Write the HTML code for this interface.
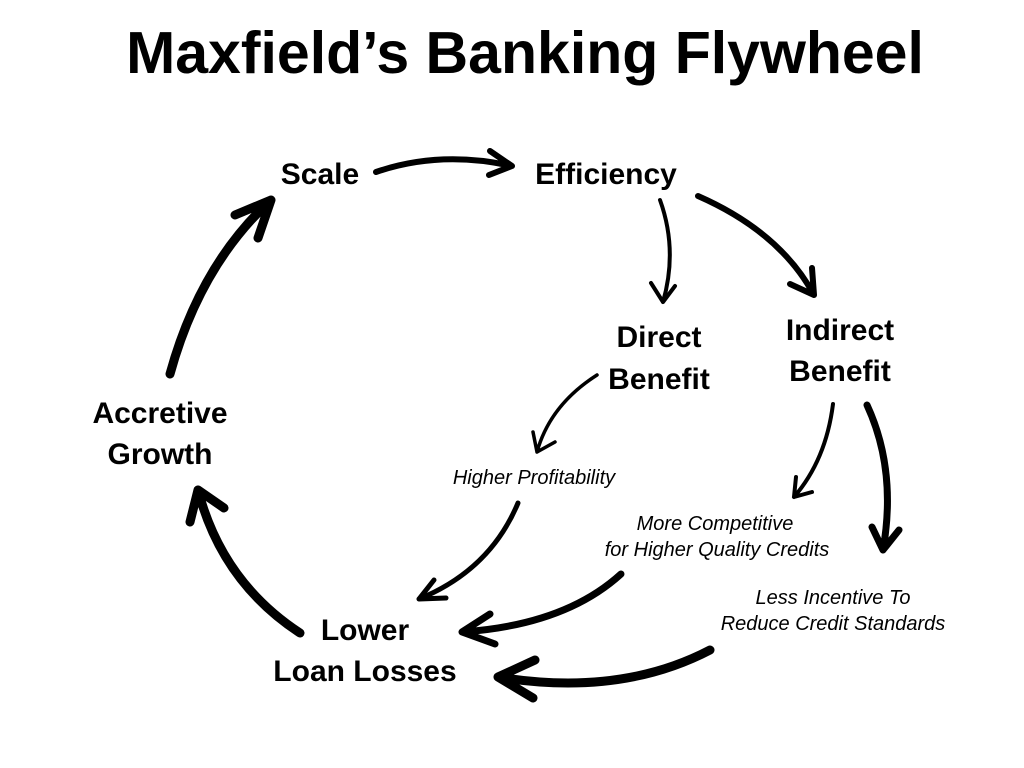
<!DOCTYPE html>
<html><head><meta charset="utf-8"><style>
html,body{margin:0;padding:0;background:#fff;}
svg{display:block;}
.t{font-family:"Liberation Sans",sans-serif;font-weight:bold;font-size:30px;fill:#000;text-anchor:middle;}
.i{font-family:"Liberation Sans",sans-serif;font-style:italic;font-size:20px;fill:#000;text-anchor:middle;}
path{fill:none;stroke:#000;stroke-linecap:round;stroke-linejoin:round;}
</style></head><body>
<svg width="1024" height="768" viewBox="0 0 1024 768">
<text x="525" y="73" style="font-family:'Liberation Sans',sans-serif;font-weight:bold;font-size:59px;text-anchor:middle">Maxfield’s Banking Flywheel</text>
<text class="t" x="320" y="184">Scale</text>
<text class="t" x="606" y="184">Efficiency</text>
<text class="t" x="659" y="347">Direct</text>
<text class="t" x="659" y="389">Benefit</text>
<text class="t" x="840" y="340">Indirect</text>
<text class="t" x="840" y="381">Benefit</text>
<text class="t" x="160" y="423">Accretive</text>
<text class="t" x="160" y="464">Growth</text>
<text class="t" x="365" y="640">Lower</text>
<text class="t" x="365" y="681">Loan Losses</text>
<text class="i" x="534" y="484">Higher Profitability</text>
<text class="i" x="715" y="530">More Competitive</text>
<text class="i" x="717" y="556">for Higher Quality Credits</text>
<text class="i" x="833" y="604">Less Incentive To</text>
<text class="i" x="833" y="630">Reduce Credit Standards</text>
<g>
<path stroke-width="9" d="M170 374 Q200 265 271 200 M235 215 L271 200 L258 238"/>
<path stroke-width="6" d="M376 172 Q440 150 512 166 M490 151 L512 166 L489 175"/>
<path stroke-width="4" d="M660 200 Q678 250 663 302 M651 283 L663 302 L675 286"/>
<path stroke-width="6" d="M698 196 Q780 232 814 295 M790 284 L814 295 L812 268"/>
<path stroke-width="3.5" d="M597 375 Q550 405 537 452 M533 432 L537 452 L555 442"/>
<path stroke-width="4" d="M833 404 Q826 460 794 497 M796 477 L794 497 L812 492"/>
<path stroke-width="7" d="M867 405 Q897 470 883 550 M872 527 L883 550 L899 530"/>
<path stroke-width="5" d="M518 503 Q490 570 419 599 M434 580 L419 599 L446 598"/>
<path stroke-width="7" d="M621 574 Q565 625 462 632 M490 614 L462 632 L495 644"/>
<path stroke-width="9" d="M710 650 Q620 697 498 677 M535 660 L498 677 L533 698"/>
<path stroke-width="9" d="M300 633 Q222 582 198 490 M190 522 L198 490 L224 508"/>
</g>
</svg>
</body></html>
